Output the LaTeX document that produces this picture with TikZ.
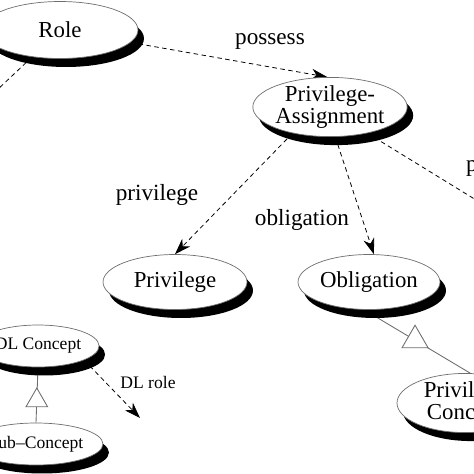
\documentclass[tikz,border=0pt]{standalone}
\usepackage{fontspec}
\setmainfont{Liberation Serif}
\usepackage{xcolor}
\usetikzlibrary{arrows.meta,shapes.geometric,shadows,backgrounds}
\definecolor{rim}{HTML}{6E6E6E}

\begin{document}
\begin{tikzpicture}[x=0.02cm, y=-0.02cm,
    concept/.style={ellipse, draw=rim, line width=0.4pt, fill=white, inner sep=0pt,
      align=center, font=\fontsize{13}{12}\selectfont,
      drop shadow={shadow xshift=0.12cm, shadow yshift=-0.17cm, fill=black, opacity=1}},
    small/.style={font=\fontsize{10}{10}\selectfont},
    relation/.style={dashed, dash pattern=on 0.09cm off 0.07cm, line width=0.45pt,
      -{Stealth[length=0.32cm, width=0.22cm, inset=0.1cm]}},
    plain/.style={dashed, dash pattern=on 0.09cm off 0.07cm, line width=0.45pt},
    isa/.style={draw=rim, line width=0.5pt},
    tip/.style={regular polygon, regular polygon sides=3, draw=rim, fill=white,
      line width=0.5pt, inner sep=0pt},
    tag/.style={anchor=base, font=\fontsize{13.2}{13}\selectfont}]
    \useasboundingbox (0,0) rectangle (474,474);

    % concepts
    \node[concept, minimum width=3.12cm, minimum height=1.14cm] (role) at (60,30) {Role};
    \node[concept, minimum width=2.92cm, minimum height=1.14cm] (pa) at (330,107) {Privilege-\\Assignment};
    \node[concept, minimum width=2.88cm, minimum height=1.1cm] (prv) at (175,282) {Privilege};
    \node[concept, minimum width=2.84cm, minimum height=1.1cm] (obl) at (369,282) {Obligation};
    \node[concept, minimum width=2.72cm, minimum height=1.14cm] (pc) at (465,403) {Privilege\\Concept};
    \node[concept, small, minimum width=2.4cm, minimum height=0.84cm] (dlc) at (38,346) {DL Concept};
    \node[concept, small, minimum width=2.4cm, minimum height=0.84cm] (sub) at (36,444) {Sub--Concept};

    % labels
    \node[tag] (lpossess) at (270,44) {possess};
    \node[tag] (lprv) at (157,200) {privilege};
    \node[tag] (lobl) at (302,225) {obligation};
    \node[tag, anchor=base west] (lpr) at (460,171) {pr};
    \node[small, anchor=base] (ldl) at (148,388) {DL role};

    \coordinate (offleft) at (-22,108);
    \coordinate (offright) at (520,227);
    \coordinate (dlend) at (140,418);

    \begin{scope}[on background layer]
      \draw[plain] (role.-136) -- (offleft);
      \draw[relation] (role.-10) -- (pa.95);
      \draw[relation] (pa.-145) -- (prv.north);
      \draw[relation] (pa.-80) -- (obl.80);
      \draw[plain] (pa.-35) -- (offright);
      \draw[relation] (dlc.-17) -- (dlend);
      % subsumption
      \draw[isa] (obl.-100) -- node[tip, pos=0.48, minimum size=0.6cm] (tri1) {} (pc.80);
      \draw[isa] (sub.north) -- node[tip, pos=0.4, minimum size=0.5cm] (tri2) {} (dlc.south);
    \end{scope}
  \end{tikzpicture}
\end{document}
